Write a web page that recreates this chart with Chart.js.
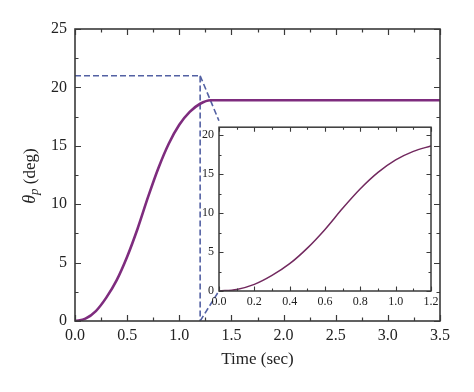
<!DOCTYPE html>
<html>
<head>
<meta charset="utf-8">
<script src="https://cdn.jsdelivr.net/npm/chart.js@4.4.1/dist/chart.umd.min.js"></script>
<style>
  html, body { margin: 0; padding: 0; background: #fff; }
  #wrap { position: relative; width: 474px; height: 392px; }
  #inset { position: absolute; }
</style>
</head>
<body>
<div id="wrap">
  <canvas id="main" width="474" height="392"></canvas>
  <canvas id="inset"></canvas>
</div>
<script>
// Step response of the pitch angle
const timeSec  = [0, 0.1, 0.2, 0.3, 0.4, 0.5, 0.6, 0.7, 0.8, 0.9, 1.0, 1.1, 1.2, 1.3, 1.4, 3.5];
const thetaDeg = [0, 0.2, 0.85, 2.0, 3.5, 5.5, 7.9, 10.6, 13.1, 15.2, 16.8, 17.9, 18.6, 18.9, 18.9, 18.9];

// dashed zoom box [0..1.2] x [0..21]
const zoomBoxX = [0, 1.2, 1.2];
const zoomBoxY = [21, 21, 0];

// tick labels
const mainXTicks  = [0, 0.5, 1.0, 1.5, 2.0, 2.5, 3.0, 3.5];
const mainYTicks  = [0, 5, 10, 15, 20, 25];
const insetXTicks = [0, 0.2, 0.4, 0.6, 0.8, 1.0, 1.2];
const insetYTicks = [0, 5, 10, 15, 20];

// where the inset frame sits, in main-axis units
const INSET_AT = { x0: 1.38, x1: 3.41, y0: 2.57, y1: 17.15 };

const SERIF = "'Liberation Serif', 'DejaVu Serif', serif";
const AXIS_COLOR = '#3a3a3a';
const CURVE_COLOR = '#7e2c7e';
const DASH_COLOR = '#5361a3';

function pts(xs, ys) {
  return xs.map((x, i) => ({ x: x, y: ys[i] }));
}

function midpoints(arr) {
  const out = [];
  for (let i = 0; i < arr.length - 1; i++) out.push((arr[i] + arr[i + 1]) / 2);
  return out;
}

// frame on all four sides with inward major/minor ticks
const frameTicks = {
  id: 'frameTicks',
  afterDraw(chart, args, opts) {
    const { ctx, chartArea: a, scales: { x, y } } = chart;
    ctx.save();
    ctx.strokeStyle = AXIS_COLOR;
    ctx.lineWidth = opts.lineWidth;
    ctx.beginPath();
    const tick = (vals, len, horizontal) => {
      vals.forEach(v => {
        if (horizontal) {
          const px = Math.round(x.getPixelForValue(v)) + 0.5;
          ctx.moveTo(px, a.bottom); ctx.lineTo(px, a.bottom - len);
          ctx.moveTo(px, a.top);    ctx.lineTo(px, a.top + len);
        } else {
          const py = Math.round(y.getPixelForValue(v)) + 0.5;
          ctx.moveTo(a.left, py);  ctx.lineTo(a.left + len, py);
          ctx.moveTo(a.right, py); ctx.lineTo(a.right - len, py);
        }
      });
    };
    tick(opts.xTicks, opts.major, true);
    tick(midpoints(opts.xTicks), opts.minor, true);
    tick(opts.yTicks, opts.major, false);
    tick(midpoints(opts.yTicks), opts.minor, false);
    ctx.stroke();
    ctx.lineWidth = opts.frameWidth;
    ctx.strokeRect(a.left, a.top, a.right - a.left, a.bottom - a.top);
    ctx.restore();
  }
};

// y title with italic theta and subscript p
const yTitle = {
  id: 'yTitle',
  afterDraw(chart) {
    if (!chart.options.plugins.yTitle || !chart.options.plugins.yTitle.show) return;
    const { ctx, chartArea: a } = chart;
    ctx.save();
    ctx.translate(30, (a.top + a.bottom) / 2 + 1);
    ctx.rotate(-Math.PI / 2);
    ctx.fillStyle = '#222';
    ctx.textBaseline = 'alphabetic';
    const fTheta = 'italic 18px ' + SERIF;
    const fSub = 'italic 13px ' + SERIF;
    const fRest = '17px ' + SERIF;
    ctx.font = fTheta; const w1 = ctx.measureText('θ').width;
    ctx.font = fSub;   const w2 = ctx.measureText('p').width;
    ctx.font = fRest;  const w3 = ctx.measureText(' (deg)').width;
    let xx = -(w1 + w2 + w3) / 2;
    ctx.font = fTheta; ctx.fillText('θ', xx, 5); xx += w1;
    ctx.font = fSub;   ctx.fillText('p', xx, 8); xx += w2;
    ctx.font = fRest;  ctx.fillText(' (deg)', xx, 5);
    ctx.restore();
  }
};

Chart.register(frameTicks, yTitle);

const mainChart = new Chart(document.getElementById('main'), {
  type: 'line',
  data: {
    datasets: [
      {
        data: pts(timeSec, thetaDeg),
        borderColor: CURVE_COLOR,
        borderWidth: 2.6,
        pointRadius: 0,
        cubicInterpolationMode: 'monotone'
      },
      {
        data: pts(zoomBoxX, zoomBoxY),
        borderColor: DASH_COLOR,
        borderWidth: 1.6,
        borderDash: [6, 3],
        pointRadius: 0,
        tension: 0
      },
      {
        data: [{ x: 1.2, y: 21 }, { x: INSET_AT.x0, y: INSET_AT.y1 }],
        borderColor: DASH_COLOR,
        borderWidth: 1.6,
        borderDash: [6, 3],
        pointRadius: 0
      },
      {
        data: [{ x: 1.2, y: 0 }, { x: INSET_AT.x0, y: INSET_AT.y0 }],
        borderColor: DASH_COLOR,
        borderWidth: 1.6,
        borderDash: [6, 3],
        pointRadius: 0
      }
    ]
  },
  options: {
    responsive: false,
    animation: false,
    layout: { padding: { top: 29, right: 34, left: 0, bottom: 0 } },
    plugins: {
      legend: { display: false },
      tooltip: { enabled: false },
      frameTicks: { xTicks: mainXTicks, yTicks: mainYTicks, major: 6, minor: 3.5, lineWidth: 1.2, frameWidth: 1.6 },
      yTitle: { show: true }
    },
    scales: {
      x: {
        type: 'linear',
        min: 0,
        max: 3.5,
        grid: { display: false, drawTicks: false },
        border: { display: false },
        afterBuildTicks: s => { s.ticks = mainXTicks.map(v => ({ value: v })); },
        afterFit: s => { s.height = 71; },
        ticks: {
          padding: 5,
          color: '#222',
          maxRotation: 0,
          font: { family: SERIF, size: 16 },
          callback: v => v.toFixed(1)
        },
        title: {
          display: true,
          text: 'Time (sec)',
          color: '#222',
          font: { family: SERIF, size: 17 },
          padding: { top: 0, bottom: 22 }
        }
      },
      y: {
        type: 'linear',
        min: 0,
        max: 25,
        grid: { display: false, drawTicks: false },
        border: { display: false },
        afterBuildTicks: s => { s.ticks = mainYTicks.map(v => ({ value: v })); },
        afterFit: s => { s.width = 75; },
        ticks: {
          padding: 8,
          color: '#222',
          font: { family: SERIF, size: 16 }
        }
      }
    }
  }
});

// place the inset so that its plot frame lands on INSET_AT in main coordinates
const mx = mainChart.scales.x, my = mainChart.scales.y;
const boxL = mx.getPixelForValue(INSET_AT.x0), boxR = mx.getPixelForValue(INSET_AT.x1);
const boxT = my.getPixelForValue(INSET_AT.y1), boxB = my.getPixelForValue(INSET_AT.y0);
const PAD = { left: 30, right: 12, top: 6, bottom: 24 };
const insetCanvas = document.getElementById('inset');
insetCanvas.width = Math.round(boxR - boxL) + PAD.left + PAD.right;
insetCanvas.height = Math.round(boxB - boxT) + PAD.top + PAD.bottom;
insetCanvas.style.left = Math.round(boxL - PAD.left) + 'px';
insetCanvas.style.top = Math.round(boxT - PAD.top) + 'px';

const insetN = timeSec.filter(t => t <= 1.2).length;

new Chart(insetCanvas, {
  type: 'line',
  data: {
    datasets: [{
      data: pts(timeSec.slice(0, insetN), thetaDeg.slice(0, insetN)),
      borderColor: '#72295f',
      borderWidth: 1.5,
      pointRadius: 0,
      cubicInterpolationMode: 'monotone'
    }]
  },
  options: {
    responsive: false,
    animation: false,
    layout: { padding: { top: PAD.top, right: PAD.right, left: 0, bottom: 0 } },
    plugins: {
      legend: { display: false },
      tooltip: { enabled: false },
      frameTicks: { xTicks: insetXTicks, yTicks: insetYTicks, major: 4.5, minor: 2.5, lineWidth: 1.1, frameWidth: 1.5 },
      yTitle: { show: false }
    },
    scales: {
      x: {
        type: 'linear',
        min: 0,
        max: 1.2,
        grid: { display: false, drawTicks: false },
        border: { display: false },
        afterBuildTicks: s => { s.ticks = insetXTicks.map(v => ({ value: v })); },
        afterFit: s => { s.height = PAD.bottom; },
        ticks: {
          padding: 4,
          color: '#222',
          maxRotation: 0,
          font: { family: SERIF, size: 12 },
          callback: v => v.toFixed(1)
        }
      },
      y: {
        type: 'linear',
        min: 0,
        max: 21,
        grid: { display: false, drawTicks: false },
        border: { display: false },
        afterBuildTicks: s => { s.ticks = insetYTicks.map(v => ({ value: v })); },
        afterFit: s => { s.width = PAD.left; },
        ticks: {
          padding: 5,
          color: '#222',
          font: { family: SERIF, size: 12 }
        }
      }
    }
  }
});
</script>
</body>
</html>
